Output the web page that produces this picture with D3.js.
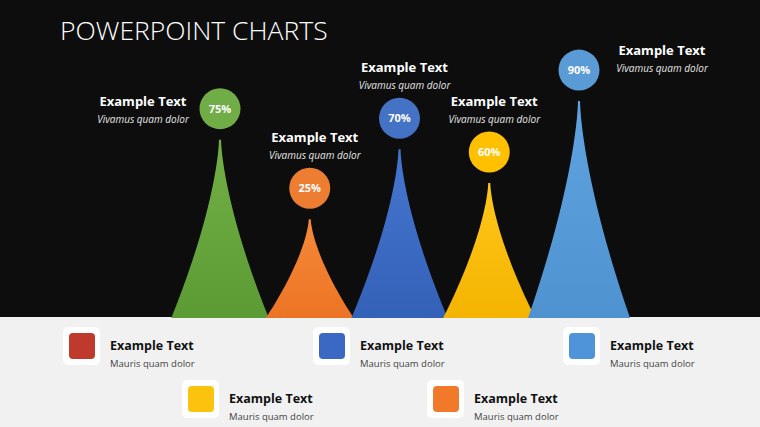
<!DOCTYPE html>
<html>
<head>
<meta charset="utf-8">
<script src="https://cdn.jsdelivr.net/npm/d3@7"></script>
<style>
  body { margin: 0; background: #0d0d0d; }
  svg { display: block; font-family: "Open Sans", "Noto Sans", sans-serif; }
</style>
</head>
<body>
<div class="chart"></div>
<script>
// Data
var categories = ["A", "B", "C", "D", "E"];
var percents = [75, 25, 70, 60, 90];
// spike heights, in percent of the full scale
var peakLevels = [74, 41, 70, 56, 90];
var labelTitles = ["Example Text", "Example Text", "Example Text", "Example Text", "Example Text"];
var labelSubs = ["Vivamus quam dolor", "Vivamus quam dolor", "Vivamus quam dolor", "Vivamus quam dolor", "Vivamus quam dolor"];
var legendTitles = ["Example Text", "Example Text", "Example Text", "Example Text", "Example Text"];
var legendSubs = ["Mauris quam dolor", "Mauris quam dolor", "Mauris quam dolor", "Mauris quam dolor", "Mauris quam dolor"];

// Styles / layout
var spikeTop = ["#72b046", "#f5893a", "#4576cf", "#ffc61a", "#5ea3e0"];
var spikeBottom = ["#5c9a34", "#ec7424", "#3461b8", "#f4b400", "#4f92d0"];
var circleColors = ["#70ad47", "#ed7d31", "#4472c4", "#ffc000", "#5b9bd5"];
var placement = ["left", "above", "above", "above", "right"];
var legendColors = ["#c0392d", "#3a68c2", "#4f94d8", "#fcc30e", "#f07a2a"];

var width = 760, height = 427;
var baseY = 318;

var svg = d3.select(".chart").append("svg")
    .attr("width", width)
    .attr("height", height);

svg.append("rect")
    .attr("width", width).attr("height", height)
    .attr("fill", "#0d0d0d");

// title
svg.append("text")
    .attr("x", 60).attr("y", 40)
    .attr("fill", "#ffffff")
    .style("font-size", "26.5px")
    .style("font-weight", 300)
    .text("POWERPOINT CHARTS");

// scales
var x = d3.scalePoint()
    .domain(categories)
    .range([220, 579]);

var y = d3.scaleLinear()
    .domain([0, 100])
    .range([baseY, baseY - 241]);

// gradients
var defs = svg.append("defs");
categories.forEach(function(c, i) {
  var g = defs.append("linearGradient")
      .attr("id", "grad" + i)
      .attr("x1", 0).attr("y1", 0).attr("x2", 0).attr("y2", 1);
  g.append("stop").attr("offset", "0%").attr("stop-color", spikeTop[i]);
  g.append("stop").attr("offset", "100%").attr("stop-color", spikeBottom[i]);
});

// spike outline: concave flanks, half width grows as h^1.5
function spikePath(cx, tipY) {
  var h = baseY - tipY;
  var half = 37 + h * 0.06;
  var steps = d3.range(0, 1.0001, 0.04);
  var left = steps.map(function(t) { return [cx - 1 - half * Math.pow(t, 1.5), tipY + h * t]; });
  var right = steps.slice().reverse().map(function(t) { return [cx + 1 + half * Math.pow(t, 1.5), tipY + h * t]; });
  return d3.line()(left.concat(right)) + "Z";
}

// bottom panel
svg.append("rect")
    .attr("x", 0).attr("y", baseY - 1)
    .attr("width", width).attr("height", height - baseY + 1)
    .attr("fill", "#f1f1f1");

var items = svg.selectAll("g.spike")
    .data(categories)
    .enter().append("g")
    .attr("class", "spike");

items.append("path")
    .attr("d", function(d, i) { return spikePath(x(d), y(peakLevels[i])); })
    .attr("fill", function(d, i) { return "url(#grad" + i + ")"; });

items.append("circle")
    .attr("cx", function(d) { return x(d); })
    .attr("cy", function(d, i) { return y(peakLevels[i]) - 31; })
    .attr("r", 20.5)
    .attr("fill", function(d, i) { return circleColors[i]; });

items.append("text")
    .attr("x", function(d) { return x(d); })
    .attr("y", function(d, i) { return y(peakLevels[i]) - 27; })
    .attr("text-anchor", "middle")
    .attr("fill", "#ffffff")
    .style("font-size", "11px")
    .style("font-weight", 700)
    .text(function(d, i) { return percents[i] + "%"; });

// labels next to circles
function labelPos(d, i) {
  var cx = x(d), cy = y(peakLevels[i]) - 31;
  if (placement[i] == "left") return {x: cx - 77, y: cy - 3};
  if (placement[i] == "right") return {x: cx + 83, y: cy - 15};
  return {x: cx + 5, y: cy - 46};
}

items.append("text")
    .attr("x", function(d, i) { return labelPos(d, i).x; })
    .attr("y", function(d, i) { return labelPos(d, i).y; })
    .attr("text-anchor", "middle")
    .attr("fill", "#ffffff")
    .style("font-size", "13px")
    .style("font-weight", 700)
    .text(function(d, i) { return labelTitles[i]; });

items.append("text")
    .attr("x", function(d, i) { return labelPos(d, i).x; })
    .attr("y", function(d, i) { return labelPos(d, i).y + 17; })
    .attr("text-anchor", "middle")
    .attr("fill", "#e6e6e6")
    .style("font-size", "10px")
    .style("font-style", "italic")
    .text(function(d, i) { return labelSubs[i]; });

// legend
function legendPos(i) {
  if (i < 3) return {x: 63 + i * 250, y: 327};
  return {x: 182 + (i - 3) * 245, y: 380};
}

var legend = svg.selectAll("g.legend")
    .data(legendColors)
    .enter().append("g")
    .attr("class", "legend")
    .attr("transform", function(d, i) {
      var p = legendPos(i);
      return "translate(" + p.x + "," + p.y + ")";
    });

legend.append("rect")
    .attr("width", 37).attr("height", 38)
    .attr("rx", 5)
    .attr("fill", "#ffffff");

legend.append("rect")
    .attr("x", 6).attr("y", 6)
    .attr("width", 26).attr("height", 26)
    .attr("rx", 4)
    .attr("fill", function(d) { return d; });

legend.append("text")
    .attr("x", 47).attr("y", 23)
    .attr("fill", "#111111")
    .style("font-size", "12.5px")
    .style("font-weight", 700)
    .text(function(d, i) { return legendTitles[i]; });

legend.append("text")
    .attr("x", 47).attr("y", 40)
    .attr("fill", "#444444")
    .style("font-size", "9.5px")
    .text(function(d, i) { return legendSubs[i]; });
</script>
</body>
</html>
